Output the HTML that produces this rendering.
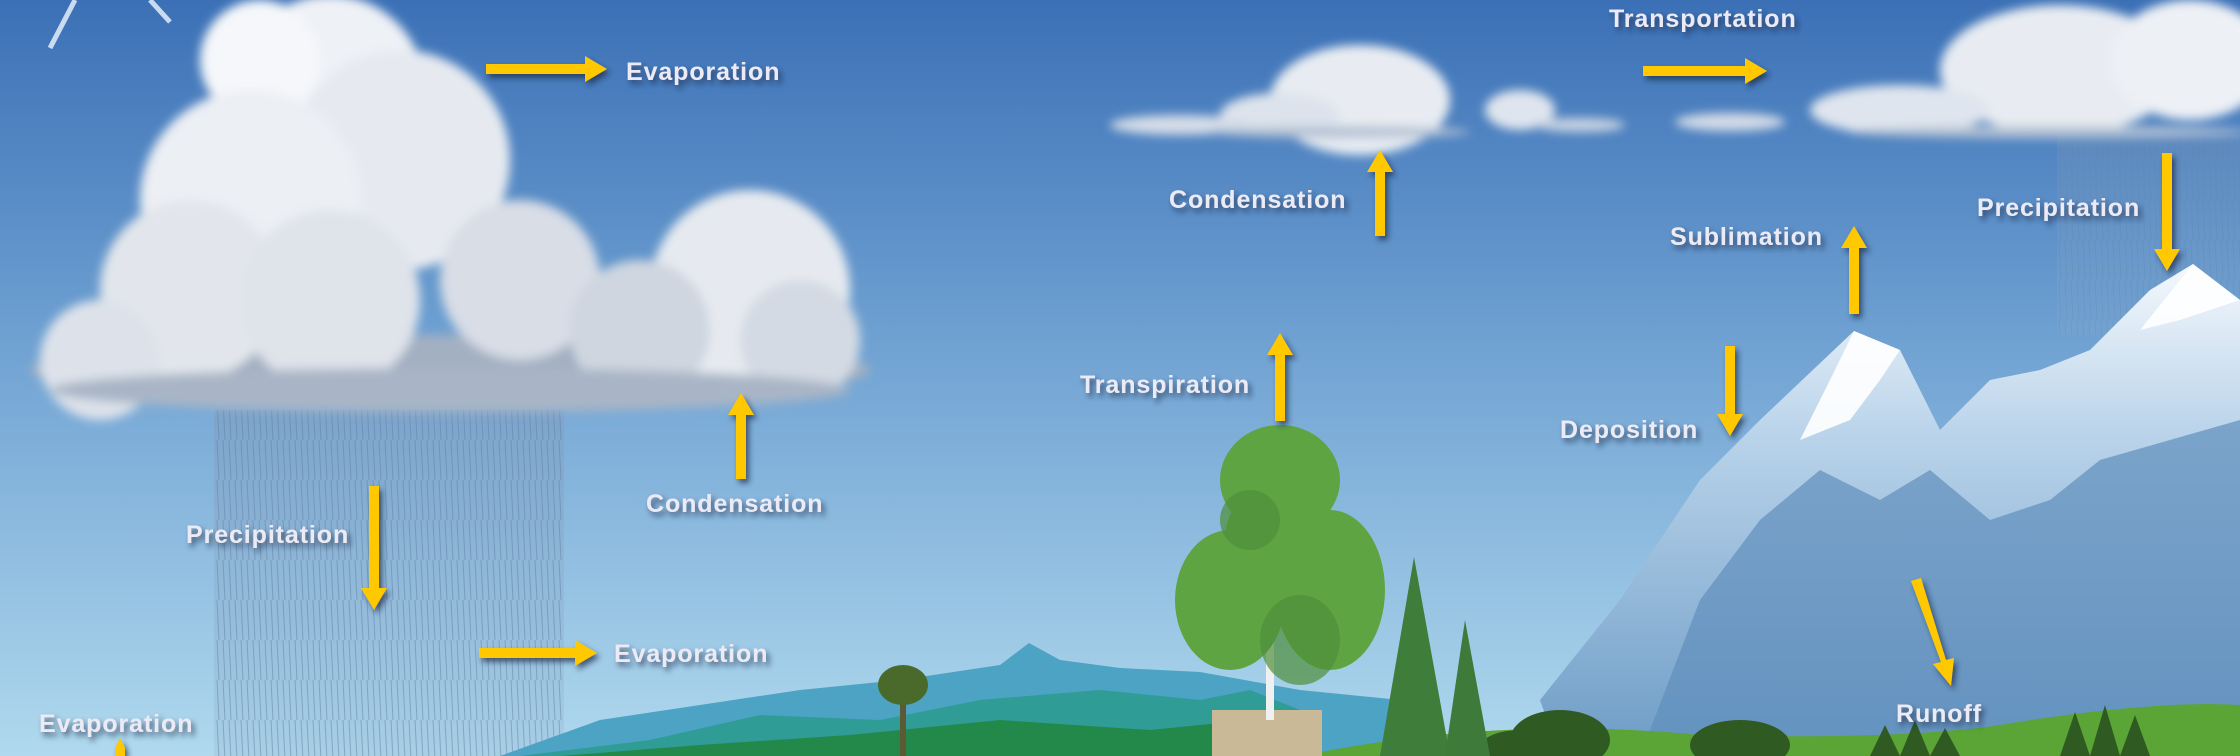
<!DOCTYPE html>
<html><head><meta charset="utf-8"><style>
html,body{margin:0;padding:0;width:2240px;height:756px;overflow:hidden}
svg{display:block}
.l{font-family:"Liberation Sans",sans-serif;font-weight:bold;font-size:25px;fill:#eceaf4;letter-spacing:0.9px}
</style></head><body>
<svg width="2240" height="756" viewBox="0 0 2240 756" xmlns="http://www.w3.org/2000/svg">
<defs>
<linearGradient id="sky" x1="0" y1="0" x2="0" y2="1">
<stop offset="0" stop-color="#3b70b6"/><stop offset="0.45" stop-color="#6fa1d2"/><stop offset="1" stop-color="#b0d9ee"/>
</linearGradient>
<linearGradient id="rain" x1="0" y1="0" x2="0" y2="1">
<stop offset="0" stop-color="#7f99b8" stop-opacity="0.8"/><stop offset="1" stop-color="#8fb0cc" stop-opacity="0.5"/>
</linearGradient>
<pattern id="streak" width="6" height="40" patternUnits="userSpaceOnUse">
<line x1="1" y1="0" x2="3" y2="40" stroke="#5f7ea3" stroke-width="1" opacity="0.5"/>
</pattern>
<linearGradient id="mt" x1="0" y1="0" x2="0" y2="1">
<stop offset="0" stop-color="#f4f8fc"/><stop offset="0.35" stop-color="#b9d3ea"/><stop offset="1" stop-color="#6d9cc6"/>
</linearGradient>
<filter id="b" x="-20%" y="-20%" width="140%" height="140%"><feGaussianBlur stdDeviation="5"/></filter>
<filter id="sh" x="-20%" y="-50%" width="140%" height="200%"><feDropShadow dx="3" dy="4" stdDeviation="3" flood-color="#1a2a44" flood-opacity="0.7"/></filter>
</defs>
<rect width="2240" height="756" fill="url(#sky)"/>
<g stroke="#eef6ff" stroke-width="5" opacity="0.8"><line x1="50" y1="48" x2="75" y2="0"/><line x1="170" y1="22" x2="150" y2="0"/></g>
<rect x="214" y="410" width="350" height="346" fill="url(#rain)" opacity="0.5"/>
<rect x="214" y="410" width="350" height="346" fill="url(#streak)"/>
<g filter="url(#b)">
<ellipse cx="450" cy="370" rx="420" ry="35" fill="#a3b0c2"/>
<circle cx="330" cy="90" r="95" fill="#eef1f6"/>
<circle cx="260" cy="60" r="60" fill="#f5f7fa"/>
<circle cx="400" cy="160" r="110" fill="#e6eaf0"/>
<circle cx="250" cy="200" r="110" fill="#eceff4"/>
<circle cx="190" cy="290" r="90" fill="#e2e6ec"/>
<circle cx="100" cy="360" r="60" fill="#dde2ea"/>
<circle cx="330" cy="300" r="90" fill="#dfe3ea"/>
<circle cx="520" cy="280" r="80" fill="#d8dde6"/>
<circle cx="750" cy="290" r="100" fill="#e6eaf0"/>
<circle cx="800" cy="340" r="60" fill="#d4dae3"/>
<circle cx="640" cy="330" r="70" fill="#cfd6e0"/>
<ellipse cx="450" cy="390" rx="400" ry="22" fill="#a9b5c6"/>
</g>
<g filter="url(#b)">
<ellipse cx="1360" cy="100" rx="90" ry="55" fill="#e8ecf2"/>
<ellipse cx="1280" cy="115" rx="60" ry="22" fill="#dde3ec"/>
<ellipse cx="1180" cy="125" rx="70" ry="10" fill="#d5dde8"/>
<ellipse cx="1520" cy="110" rx="35" ry="20" fill="#dfe5ee"/>
<ellipse cx="1580" cy="125" rx="45" ry="7" fill="#c8d3e2"/>
<ellipse cx="1340" cy="132" rx="130" ry="6" fill="#b5c2d4"/>
</g>
<rect x="2057" y="135" width="183" height="200" fill="url(#rain)" opacity="0.3"/>
<rect x="2057" y="135" width="183" height="200" fill="url(#streak)" opacity="0.5"/>
<g filter="url(#b)">
<ellipse cx="2060" cy="70" rx="120" ry="65" fill="#e8ecf2"/>
<ellipse cx="2190" cy="60" rx="80" ry="60" fill="#edf0f5"/>
<ellipse cx="1900" cy="110" rx="90" ry="25" fill="#dfe5ee"/>
<ellipse cx="1730" cy="122" rx="55" ry="9" fill="#d3dbe7"/>
<ellipse cx="2050" cy="132" rx="200" ry="6" fill="#b5c2d4"/>
</g>
<polygon points="500,756 600,720 700,705 800,690 900,680 1000,665 1029,643 1060,660 1120,668 1200,672 1300,690 1400,700 1400,756" fill="#4ca3c4"/>
<polygon points="520,756 650,740 760,715 880,720 980,700 1100,690 1200,700 1250,690 1300,710 1300,756" fill="#2f9d96"/>
<polygon points="560,756 700,745 850,735 1000,720 1150,730 1250,720 1250,756" fill="#23894a"/>
<polygon points="1540,700 1620,600 1700,480 1760,420 1854,331 1900,350 1940,430 1990,380 2040,370 2090,350 2150,290 2193,264 2240,300 2240,756 1560,756" fill="url(#mt)"/>
<polygon points="1700,600 1760,520 1820,470 1880,500 1930,470 1990,520 2050,500 2100,460 2240,420 2240,756 1640,756" fill="#5f8fbc" opacity="0.7"/>
<polygon points="1854,331 1830,380 1800,440 1850,420 1880,380 1900,350" fill="#ffffff" opacity="0.9"/>
<polygon points="2193,264 2140,330 2180,320 2240,300" fill="#ffffff" opacity="0.9"/>
<path d="M1300,756 Q1500,715 1700,735 Q1900,740 2000,725 Q2150,700 2240,705 L2240,756 Z" fill="#5aa535"/>
<g fill="#2f5a22">
<ellipse cx="1560" cy="740" rx="50" ry="30"/><ellipse cx="1740" cy="745" rx="50" ry="25"/><ellipse cx="1520" cy="748" rx="40" ry="18"/>
<polygon points="1870,756 1885,725 1900,756"/><polygon points="1900,756 1915,720 1930,756"/><polygon points="1930,756 1945,728 1960,756"/>
<polygon points="2060,756 2075,712 2090,756"/><polygon points="2090,756 2105,705 2120,756"/><polygon points="2120,756 2135,715 2150,756"/>
</g>
<polygon points="1414,557 1380,756 1450,756" fill="#3f7d3a"/>
<polygon points="1465,620 1445,756 1490,756" fill="#3e7a3a"/>
<rect x="1212" y="710" width="110" height="46" fill="#c9b996"/>
<rect x="1266" y="560" width="8" height="160" fill="#f0f0f0"/>
<g fill="#5ea443">
<ellipse cx="1280" cy="480" rx="60" ry="55"/><ellipse cx="1230" cy="600" rx="55" ry="70"/><ellipse cx="1330" cy="590" rx="55" ry="80"/><ellipse cx="1280" cy="540" rx="55" ry="60"/>
</g>
<g fill="#4e8f3a" opacity="0.7"><ellipse cx="1300" cy="640" rx="40" ry="45"/><ellipse cx="1250" cy="520" rx="30" ry="30"/></g>
<rect x="900" y="680" width="6" height="76" fill="#5b5a35"/>
<ellipse cx="903" cy="685" rx="25" ry="20" fill="#4a6a2c"/>
<g fill="#ffc800" filter="url(#sh)">
<polygon points="486,64 585,64 585,56 607,69 585,82 585,74 486,74"/>
<polygon points="1643,66 1745,66 1745,58 1767,71 1745,84 1745,76 1643,76"/>
<polygon points="479,648 575,648 575,640 597,653 575,666 575,658 479,658"/>
<polygon points="1375,236 1375,172 1367,172 1380,150 1393,172 1385,172 1385,236"/>
<polygon points="1849,314 1849,248 1841,248 1854,226 1867,248 1859,248 1859,314"/>
<polygon points="1275,421 1275,355 1267,355 1280,333 1293,355 1285,355 1285,421"/>
<polygon points="736,479 736,415 728,415 741,393 754,415 746,415 746,479"/>
<polygon points="2162,153 2172,153 2172,249 2180,249 2167,271 2154,249 2162,249"/>
<polygon points="1725,346 1735,346 1735,414 1743,414 1730,436 1717,414 1725,414"/>
<polygon points="369,486 379,486 379,588 387,588 374,610 361,588 369,588"/>
<polygon points="1911,581 1921,578 1946,660 1954,658 1951,686 1933,664 1941,662"/>
<polygon points="115,756 115,748 120,738 125,748 125,756"/>
</g>
<g class="l" filter="url(#sh)">
<text x="626" y="80">Evaporation</text>
<text x="1609" y="27">Transportation</text>
<text x="1169" y="208">Condensation</text>
<text x="1977" y="216">Precipitation</text>
<text x="1670" y="245">Sublimation</text>
<text x="1080" y="393">Transpiration</text>
<text x="1560" y="438">Deposition</text>
<text x="646" y="512">Condensation</text>
<text x="186" y="543">Precipitation</text>
<text x="614" y="662">Evaporation</text>
<text x="39" y="732">Evaporation</text>
<text x="1896" y="722">Runoff</text>
</g>
</svg>
</body></html>
